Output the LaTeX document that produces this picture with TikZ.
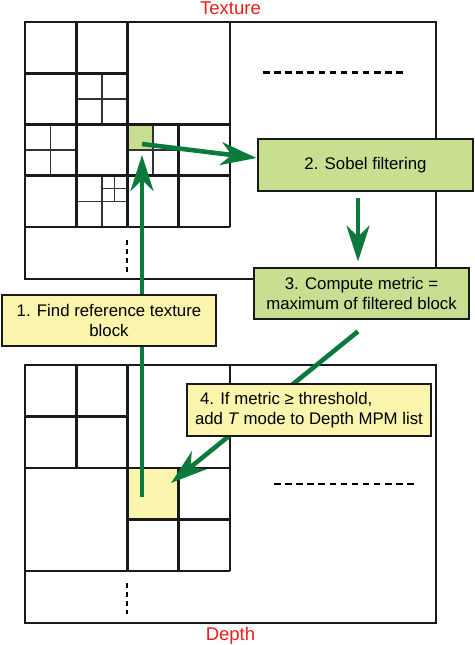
\documentclass[tikz,border=0pt]{standalone}
\usepackage{fontspec}
\setmainfont{Liberation Sans}
\usetikzlibrary{arrows.meta}
\definecolor{boxgreen}{RGB}{200,223,146}
\definecolor{boxyellow}{RGB}{250,244,172}
\definecolor{arrowgreen}{RGB}{12,122,60}
\definecolor{labelred}{RGB}{232,30,30}
\begin{document}
\begin{tikzpicture}[x=1pt,y=-1pt,
  thickline/.style={line width=2.7pt, draw=black!90},
  thinline/.style={line width=1.3pt, draw=black!80},
  stepbox/.style={draw=black!90, line width=2.8pt, inner sep=0pt, align=center,
    font=\fontsize{16.8}{20}\selectfont},
  flow/.style={draw=arrowgreen, line width=4.6pt, -{Stealth[length=36pt,width=23pt,inset=11pt]}},
  dotsline/.style={line width=2.8pt, dash pattern=on 5pt off 4pt},
  dashline/.style={line width=2.8pt, dash pattern=on 6.5pt off 4.6pt},
  lbl/.style={text=labelred, font=\fontsize{18.5}{22}\selectfont, anchor=base}
]
\useasboundingbox (0,0) rectangle (474,645);

% ---------------- Texture picture ----------------
\fill[boxgreen] (127.5,124.5) rectangle (153.125,150.125);
\node[inner sep=0pt, minimum size=0pt] (gblk) at (140.3,137.3) {};
% thin subdivisions
\draw[thinline] (101.875,73.25) -- (101.875,124.5) (76.25,98.875) -- (127.5,98.875);
\draw[thinline] (50.625,124.5) -- (50.625,175.75) (25,150.125) -- (76.25,150.125);
\draw[thinline] (153.125,124.5) -- (153.125,175.75) (127.5,150.125) -- (178.75,150.125);
\draw[thinline] (101.875,175.75) -- (101.875,227) (76.25,201.375) -- (127.5,201.375);
\draw[thinline] (114.69,175.75) -- (114.69,201.375) (101.875,188.56) -- (127.5,188.56);
% thick grid
\draw[thickline] (76.25,22) -- (76.25,227)
  (127.5,22) -- (127.5,227)
  (178.75,124.5) -- (178.75,227)
  (230,22) -- (230,227)
  (25,73.25) -- (127.5,73.25)
  (25,124.5) -- (230,124.5)
  (25,175.75) -- (230,175.75)
  (25,227) -- (230,227);
\draw[thickline] (25,22) rectangle (436,279);
\draw[dotsline] (127,240) -- (127,273);
\draw[dashline] (263,72.5) -- (404,72.5);

% ---------------- Depth picture ----------------
\fill[boxyellow] (127.5,468) rectangle (178.75,519.5);
\node[inner sep=0pt, minimum size=0pt] (yblk) at (153.1,493.7) {};
\draw[thickline] (76.25,365) -- (76.25,468)
  (127.5,365) -- (127.5,571)
  (178.75,468) -- (178.75,571)
  (230,365) -- (230,571)
  (25,416.5) -- (127.5,416.5)
  (25,468) -- (230,468)
  (127.5,519.5) -- (230,519.5)
  (25,571) -- (230,571);
\draw[thickline] (25,365) rectangle (436,623);
\draw[dotsline] (127,583) -- (127,614);
\draw[dashline] (274,484) -- (415,484);

% ---------------- labels ----------------
\node[lbl] (tex) at (230.5,14) {Texture};
\node[lbl] (dep) at (230.5,640) {Depth};

% ---------------- named points on blocks ----------------
\coordinate (gsrc) at (142,144);
\coordinate (gtip) at (142,155);
\coordinate (ysrc) at (142,497);
\coordinate (ytip) at (171,483);

% ---------------- boxes and arrows ----------------
\node[stepbox, fill=boxgreen, minimum width=215pt, minimum height=52pt] (b2) at (365.5,165) {2. Sobel filtering};
\node[stepbox, fill=boxgreen, minimum width=215pt, minimum height=51pt] (b3) at (361.5,293.5) {3. Compute metric =\\maximum of filtered block};

\draw[flow] (ysrc) -- (gtip);
\draw[flow] ([xshift=-3.5pt,yshift=-11pt]b3.south) -- (ytip);
\draw[flow] (gsrc) -- ([yshift=7pt]b2.west);
\draw[flow] ([xshift=-7.5pt,yshift=-6pt]b2.south) -- ([xshift=-3.5pt,yshift=5pt]b3.north);

\node[stepbox, fill=boxyellow, minimum width=214pt, minimum height=51pt] (b1) at (109,320.5) {1. Find reference texture\\block};
\node[stepbox, fill=boxyellow, minimum width=244pt, minimum height=52pt, align=left] (b4) at (309,410) {\hspace*{5pt}4. If metric ≥ threshold,\\add \textit{T} mode to Depth MPM list};
\end{tikzpicture}
\end{document}
